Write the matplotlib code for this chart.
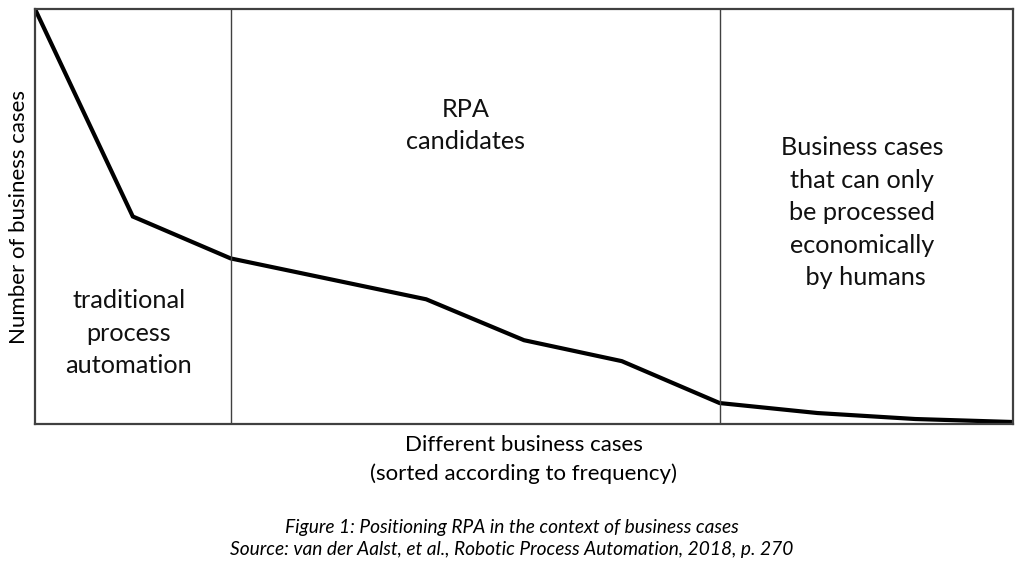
import matplotlib
matplotlib.use('Agg')
import matplotlib.pyplot as plt

# business cases sorted by frequency (relative units)
case_pos = [0, 1, 2, 4, 5, 6, 7, 8, 9, 10]
case_count = [416, 208, 166, 125, 84, 63, 21, 11, 5, 2]
boundaries = [2, 7]

region_labels = ['traditional\nprocess\nautomation',
                 'RPA\ncandidates',
                 'Business cases\nthat can only\nbe processed\neconomically\n by humans']
region_x = [0.96, 4.40, 8.46]
region_y = [91, 299, 212]

plt.rcParams['font.family'] = ['Lato', 'DejaVu Sans']

fig = plt.figure(figsize=(10.24, 5.8), dpi=100)
ax = fig.add_axes([35/1024, 1 - 424/580, 978/1024, 415/580])

ax.plot(case_pos, case_count, color='black', lw=3, solid_joinstyle='miter')
for b in boundaries:
    ax.axvline(b, color='#404040', lw=1)

for lbl, tx, ty in zip(region_labels, region_x, region_y):
    ax.text(tx, ty, lbl, ha='center', va='center', fontsize=18.2,
            linespacing=1.5, color='#111111')

ax.set_xlim(0, 10)
ax.set_ylim(0, 416)
ax.set_xticks([])
ax.set_yticks([])
for s in ax.spines.values():
    s.set_color('#404040')
    s.set_linewidth(1.6)

ax.set_ylabel('Number of business cases', fontsize=16, labelpad=4)
ax.set_xlabel('Different business cases\n(sorted according to frequency)',
              fontsize=16, labelpad=8, linespacing=1.5)

fig.text(0.5, 1 - 527/580, 'Figure 1: Positioning RPA in the context of business cases',
         ha='center', va='center', fontsize=13.8, style='italic')
fig.text(0.5, 1 - 549/580, 'Source: van der Aalst, et al., Robotic Process Automation, 2018, p. 270',
         ha='center', va='center', fontsize=13.8, style='italic')

fig.savefig('out.png', dpi=100)
